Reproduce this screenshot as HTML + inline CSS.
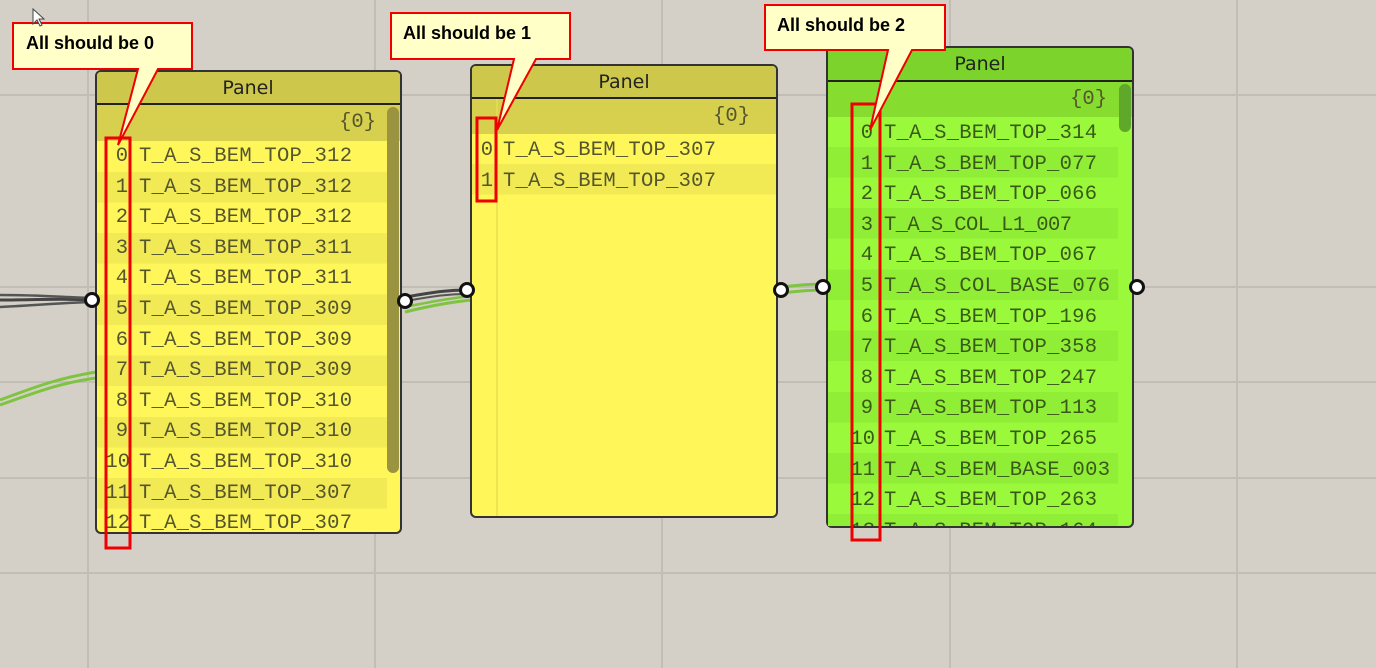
<!DOCTYPE html>
<html><head><meta charset="utf-8"><style>
html,body{margin:0;padding:0;background:#d4d0c8;}
svg{display:block}
.m{font-family:"Liberation Mono",monospace;font-size:20.5px;fill:#55552e}
.g{fill:#3a5a1a}
.h{font-family:"DejaVu Sans","Liberation Sans",sans-serif;font-size:19px;fill:#222}
.c{font-family:"Liberation Sans",sans-serif;font-weight:bold;font-size:18px;fill:#000}
</style></head><body>
<svg width="1376" height="668" viewBox="0 0 1376 668" xmlns="http://www.w3.org/2000/svg">
<defs><clipPath id="p3"><rect x="828" y="82" width="304" height="444"/></clipPath></defs>
<rect width="1376" height="668" fill="#d4d0c8"/>
<g stroke="#c2beb6" stroke-width="2">
<line x1="88" y1="0" x2="88" y2="668"/><line x1="375" y1="0" x2="375" y2="668"/><line x1="662" y1="0" x2="662" y2="668"/><line x1="950" y1="0" x2="950" y2="668"/><line x1="1237" y1="0" x2="1237" y2="668"/>
<line x1="0" y1="95" x2="1376" y2="95"/><line x1="0" y1="287" x2="1376" y2="287"/><line x1="0" y1="382" x2="1376" y2="382"/><line x1="0" y1="478" x2="1376" y2="478"/><line x1="0" y1="573" x2="1376" y2="573"/>
</g>
<g fill="none">
<path d="M0 300 C40 300 60 298 91 300" stroke="#444" stroke-width="3"/>
<path d="M0 307 C40 305 60 303 91 302" stroke="#555" stroke-width="2.5"/>
<path d="M0 295 C40 295 60 297 91 298" stroke="#555" stroke-width="2.5"/>
<path d="M405 297 C430 293 445 290 467 290" stroke="#444" stroke-width="3"/>
<path d="M405 301 C430 297 445 294 467 294" stroke="#555" stroke-width="2"/>
<path d="M0 400 C40 385 60 378 96 372" stroke="#7fc440" stroke-width="3"/>
<path d="M0 405 C40 391 60 383 96 378" stroke="#7fc440" stroke-width="3"/>
<path d="M405 312 C430 306 445 303 471 300" stroke="#7fc440" stroke-width="3"/>
<path d="M405 307 C430 302 445 299 471 296" stroke="#7fc440" stroke-width="2.5"/>
<path d="M781 287 C800 285 810 284 827 284" stroke="#7fc440" stroke-width="3"/>
<path d="M781 293 C800 291 810 290 827 290" stroke="#7fc440" stroke-width="3"/>
</g>
<g>
<rect x="96" y="71" width="305" height="462" rx="5" fill="#fff75a" stroke="#333" stroke-width="2"/>
<path d="M97 76 q0-4 4-4 h295 q4 0 4 4 v28 h-303z" fill="#cdc84c"/>
<rect x="97" y="105" width="303" height="36" fill="#d6d04e"/>
<line x1="97" y1="104" x2="400" y2="104" stroke="#222" stroke-width="2"/>
<text x="248" y="94" class="h" text-anchor="middle">Panel</text>
<text x="376" y="127" class="m" text-anchor="end" font-size="17">{0}</text>
<rect x="97" y="172" width="290" height="30.6" fill="#f2ea55"/>
<rect x="97" y="233" width="290" height="30.6" fill="#f2ea55"/>
<rect x="97" y="294.5" width="290" height="30.6" fill="#f2ea55"/>
<rect x="97" y="355.5" width="290" height="30.6" fill="#f2ea55"/>
<rect x="97" y="417" width="290" height="30.6" fill="#f2ea55"/>
<rect x="97" y="478" width="290" height="30.6" fill="#f2ea55"/>
<rect x="387" y="107" width="12" height="366" rx="6" fill="#9a9440"/>
<g class="m">
<text x="128" y="161" text-anchor="end">0</text><text x="139" y="161" textLength="213">T_A_S_BEM_TOP_312</text>
<text x="128" y="192" text-anchor="end">1</text><text x="139" y="192" textLength="213">T_A_S_BEM_TOP_312</text>
<text x="128" y="222" text-anchor="end">2</text><text x="139" y="222" textLength="213">T_A_S_BEM_TOP_312</text>
<text x="128" y="253" text-anchor="end">3</text><text x="139" y="253" textLength="213">T_A_S_BEM_TOP_311</text>
<text x="128" y="283" text-anchor="end">4</text><text x="139" y="283" textLength="213">T_A_S_BEM_TOP_311</text>
<text x="128" y="314" text-anchor="end">5</text><text x="139" y="314" textLength="213">T_A_S_BEM_TOP_309</text>
<text x="128" y="345" text-anchor="end">6</text><text x="139" y="345" textLength="213">T_A_S_BEM_TOP_309</text>
<text x="128" y="375" text-anchor="end">7</text><text x="139" y="375" textLength="213">T_A_S_BEM_TOP_309</text>
<text x="128" y="406" text-anchor="end">8</text><text x="139" y="406" textLength="213">T_A_S_BEM_TOP_310</text>
<text x="128" y="436" text-anchor="end">9</text><text x="139" y="436" textLength="213">T_A_S_BEM_TOP_310</text>
<text x="130" y="467" text-anchor="end">10</text><text x="139" y="467" textLength="213">T_A_S_BEM_TOP_310</text>
<text x="130" y="498" text-anchor="end">11</text><text x="139" y="498" textLength="213">T_A_S_BEM_TOP_307</text>
<text x="130" y="528" text-anchor="end">12</text><text x="139" y="528" textLength="213">T_A_S_BEM_TOP_307</text>
</g>
<circle cx="92" cy="300" r="6.5" fill="#fff" stroke="#111" stroke-width="3"/>
<circle cx="405" cy="301" r="6.5" fill="#fff" stroke="#111" stroke-width="3"/>
</g>
<g>
<rect x="471" y="65" width="306" height="452" rx="5" fill="#fff75a" stroke="#333" stroke-width="2"/>
<path d="M472 70 q0-4 4-4 h296 q4 0 4 4 v28 h-304z" fill="#cdc84c"/>
<rect x="472" y="99" width="304" height="35" fill="#d6d04e"/>
<line x1="472" y1="98" x2="776" y2="98" stroke="#222" stroke-width="2"/>
<line x1="497" y1="99" x2="497" y2="516" stroke="#e6dd50" stroke-width="1.5"/>
<text x="624" y="88" class="h" text-anchor="middle">Panel</text>
<text x="750" y="121" class="m" text-anchor="end" font-size="17">{0}</text>
<rect x="472" y="164" width="304" height="30.6" fill="#f2ea55"/>
<g class="m">
<text x="493" y="155" text-anchor="end">0</text><text x="503" y="155" textLength="213">T_A_S_BEM_TOP_307</text>
<text x="493" y="186" text-anchor="end">1</text><text x="503" y="186" textLength="213">T_A_S_BEM_TOP_307</text>
</g>
<circle cx="467" cy="290" r="6.5" fill="#fff" stroke="#111" stroke-width="3"/>
<circle cx="781" cy="290" r="6.5" fill="#fff" stroke="#111" stroke-width="3"/>
</g>
<g>
<rect x="827" y="47" width="306" height="480" rx="5" fill="#99f93a" stroke="#333" stroke-width="2"/>
<path d="M828 52 q0-4 4-4 h296 q4 0 4 4 v28 h-304z" fill="#7bd32b"/>
<rect x="828" y="82" width="304" height="35" fill="#86dd30"/>
<line x1="828" y1="81" x2="1132" y2="81" stroke="#222" stroke-width="2"/>
<text x="980" y="70" class="h" text-anchor="middle">Panel</text>
<text x="1107" y="104" class="m" text-anchor="end" font-size="17">{0}</text>
<rect x="828" y="147" width="290" height="30.6" fill="#90ee36"/>
<rect x="828" y="208" width="290" height="30.6" fill="#90ee36"/>
<rect x="828" y="269.5" width="290" height="30.6" fill="#90ee36"/>
<rect x="828" y="330.5" width="290" height="30.6" fill="#90ee36"/>
<rect x="828" y="392" width="290" height="30.6" fill="#90ee36"/>
<rect x="828" y="453" width="290" height="30.6" fill="#90ee36"/>
<rect x="828" y="514" width="290" height="12" fill="#90ee36"/>
<rect x="1119" y="84" width="12" height="48" rx="6" fill="#5fa82a"/>
<g class="m g" clip-path="url(#p3)">
<text x="873" y="138" text-anchor="end">0</text><text x="884" y="138" textLength="213">T_A_S_BEM_TOP_314</text>
<text x="873" y="169" text-anchor="end">1</text><text x="884" y="169" textLength="213">T_A_S_BEM_TOP_077</text>
<text x="873" y="199" text-anchor="end">2</text><text x="884" y="199" textLength="213">T_A_S_BEM_TOP_066</text>
<text x="873" y="230" text-anchor="end">3</text><text x="884" y="230" textLength="188">T_A_S_COL_L1_007</text>
<text x="873" y="260" text-anchor="end">4</text><text x="884" y="260" textLength="213">T_A_S_BEM_TOP_067</text>
<text x="873" y="291" text-anchor="end">5</text><text x="884" y="291" textLength="226">T_A_S_COL_BASE_076</text>
<text x="873" y="322" text-anchor="end">6</text><text x="884" y="322" textLength="213">T_A_S_BEM_TOP_196</text>
<text x="873" y="352" text-anchor="end">7</text><text x="884" y="352" textLength="213">T_A_S_BEM_TOP_358</text>
<text x="873" y="383" text-anchor="end">8</text><text x="884" y="383" textLength="213">T_A_S_BEM_TOP_247</text>
<text x="873" y="413" text-anchor="end">9</text><text x="884" y="413" textLength="213">T_A_S_BEM_TOP_113</text>
<text x="875" y="444" text-anchor="end">10</text><text x="884" y="444" textLength="213">T_A_S_BEM_TOP_265</text>
<text x="875" y="475" text-anchor="end">11</text><text x="884" y="475" textLength="226">T_A_S_BEM_BASE_003</text>
<text x="875" y="505" text-anchor="end">12</text><text x="884" y="505" textLength="213">T_A_S_BEM_TOP_263</text>
<text x="875" y="536" text-anchor="end">13</text><text x="884" y="536" textLength="213">T_A_S_BEM_TOP_164</text>
</g>
<circle cx="823" cy="287" r="6.5" fill="#fff" stroke="#111" stroke-width="3"/>
<circle cx="1137" cy="287" r="6.5" fill="#fff" stroke="#111" stroke-width="3"/>
</g>
<g fill="none" stroke="#ee0000" stroke-width="3">
<rect x="106" y="138" width="24" height="410"/>
<rect x="477" y="118" width="19" height="83"/>
<rect x="852" y="104" width="28" height="436"/>
</g>
<g stroke="#ee0000" stroke-width="2" fill="#ffffc8">
<path d="M13 23 H192 V69 H158 L118 145 L138 69 H13 Z"/>
<path d="M391 13 H570 V59 H536 L497 130 L514 59 H391 Z"/>
<path d="M765 5 H945 V50 H912 L870 130 L888 50 H765 Z"/>
</g>
<text x="26" y="49" class="c">All should be 0</text>
<text x="403" y="39" class="c">All should be 1</text>
<text x="777" y="31" class="c">All should be 2</text>
<path d="M33 9 L33 24 L37 20 L40 26 L42 25 L39 19 L44 19 Z" fill="#fff" stroke="#444" stroke-width="1"/>
</svg>
</body></html>
